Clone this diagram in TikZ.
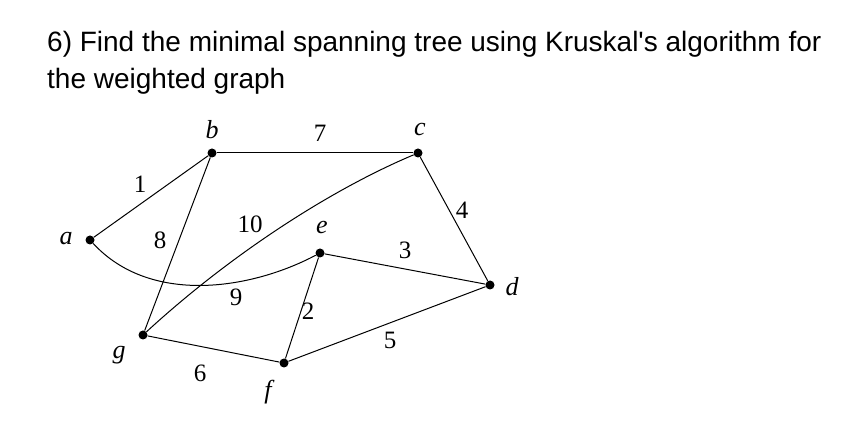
\documentclass[tikz,border=0pt]{standalone}
\usepackage{fontspec}
\setmainfont{Liberation Sans}
\newfontfamily\gfont{Liberation Serif}
\begin{document}
\begin{tikzpicture}[x=1pt,y=-1pt,
  vtx/.style={circle,fill=black,inner sep=0pt,minimum size=9pt},
  lbl/.style={font=\gfont\fontsize{25}{25}\selectfont},
  vl/.style={font=\gfont\itshape\fontsize{26}{26}\selectfont},
  edge/.style={line width=1pt}]
\useasboundingbox (0,0) rectangle (860,446);
\node[anchor=base west,inner sep=0pt,font=\fontsize{28}{28}\selectfont] (t1) at (47,52) {6) Find the minimal spanning tree using Kruskal\textquotesingle s algorithm for};
\node[anchor=base west,inner sep=0pt,font=\fontsize{28}{28}\selectfont] (t2) at (47,89) {the weighted graph};
\node[vtx] (a) at (90,240) {};
\node[vtx] (b) at (212,153) {};
\node[vtx] (c) at (418,153) {};
\node[vtx] (e) at (320,253) {};
\node[vtx] (d) at (490,285) {};
\node[vtx] (g) at (143,335) {};
\node[vtx] (f) at (284,363) {};
\draw[edge] (a) -- (b);
\draw[edge] (b) -- (c);
\draw[edge] (c) -- (d);
\draw[edge] (b) -- (g);
\draw[edge] (c) .. controls (330,190) and (230,255) .. (g);
\draw[edge] (a) .. controls (150,305) and (250,290) .. (e);
\draw[edge] (e) -- (d);
\draw[edge] (e) -- (f);
\draw[edge] (f) -- (d);
\draw[edge] (g) -- (f);
\node[lbl] (l1) at (140,184) {1};
\node[lbl] (l7) at (320,133) {7};
\node[lbl] (l4) at (462,210) {4};
\node[lbl] (l8) at (160,240) {8};
\node[lbl] (l10) at (250,224) {10};
\node[lbl] (l9) at (236,297) {9};
\node[lbl] (l3) at (405,250) {3};
\node[lbl] (l2) at (308,311) {2};
\node[lbl] (l5) at (390,340) {5};
\node[lbl] (l6) at (200,373) {6};
\node[vl] (nb) at (212,130) {b};
\node[vl] (nc) at (420,130) {c};
\node[vl] (na) at (66,239) {a};
\node[vl] (ne) at (322,228) {e};
\node[vl] (nd) at (512,287) {d};
\node[vl] (ng) at (119,355) {g};
\node[vl] (nf) at (268,392) {f};
\end{tikzpicture}
\end{document}
